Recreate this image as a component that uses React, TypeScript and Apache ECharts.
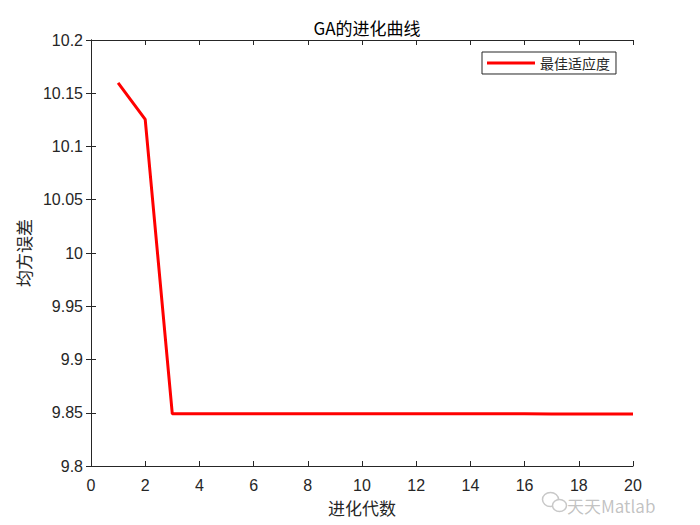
import React, { useEffect, useRef } from "react";
import * as echarts from "echarts";

const generations = [1, 2, 3, 4, 5, 6, 7, 8, 9, 10, 11, 12, 13, 14, 15, 16, 17, 18, 19, 20];
const bestFitness = [10.1598, 10.1255, 9.849, 9.849, 9.849, 9.849, 9.849, 9.849, 9.849, 9.849, 9.849, 9.849, 9.849, 9.849, 9.849, 9.849, 9.8489, 9.8489, 9.8489, 9.8489];
const seriesName = "最佳适应度";
const titleText = "GA的进化曲线";
const xName = "进化代数";
const yName = "均方误差";

export default function App() {
  const ref = useRef<HTMLDivElement>(null);
  useEffect(() => {
    if (!ref.current) return;
    const chart = echarts.init(ref.current, undefined, { renderer: "svg" });
    const axisColor = "#262626";
    const font = "Arial, 'Liberation Sans', Helvetica, sans-serif";
    const cjk = "'Noto Sans CJK SC', sans-serif";
    const data = generations.map((g, i) => [g, bestFitness[i]]);
    chart.setOption({
      animation: false,
      backgroundColor: "#fff",
      title: {
        text: titleText,
        left: 362,
        textAlign: "center",
        top: 14,
        textStyle: { fontSize: 17, fontWeight: "normal", color: "#000", fontFamily: cjk },
      },
      legend: {
        data: [{ name: seriesName, icon: "rect" }],
        left: 482,
        top: 52,
        padding: [4, 6, 4, 5],
        itemWidth: 48,
        itemHeight: 3,
        itemGap: 4,
        borderColor: "#262626",
        borderWidth: 1,
        backgroundColor: "#fff",
        textStyle: { fontSize: 14, color: "#262626", fontFamily: cjk },
      },
      grid: { left: 91, right: 67, top: 40, bottom: 59, containLabel: false, outerBoundsMode: "none" },
      xAxis: [
        {
          type: "value",
          min: 0,
          max: 20,
          interval: 2,
          name: xName,
          nameLocation: "middle",
          nameGap: 33,
          nameTextStyle: { fontSize: 17, color: "#262626", fontFamily: cjk },
          axisLine: { show: true, lineStyle: { color: axisColor, width: 1 } },
          axisTick: { show: true, inside: true, length: 5, lineStyle: { color: axisColor } },
          axisLabel: { fontSize: 16, color: axisColor, fontFamily: font, margin: 11 },
          splitLine: { show: false },
        },
        {
          type: "value",
          position: "top",
          min: 0,
          max: 20,
          interval: 2,
          axisLine: { show: true, lineStyle: { color: axisColor, width: 1 } },
          axisTick: { show: true, inside: true, length: 5, lineStyle: { color: axisColor } },
          axisLabel: { show: false },
          splitLine: { show: false },
        },
      ],
      yAxis: [
        {
          type: "value",
          min: 9.8,
          max: 10.2,
          interval: 0.05,
          name: yName,
          nameLocation: "middle",
          nameGap: 58,
          nameRotate: 90,
          nameTextStyle: { fontSize: 17, color: "#262626", fontFamily: cjk },
          axisLine: { show: true, lineStyle: { color: axisColor, width: 1 } },
          axisTick: { show: true, inside: true, length: 5, lineStyle: { color: axisColor } },
          axisLabel: {
            fontSize: 16,
            color: axisColor,
            fontFamily: font,
            margin: 8,
            formatter: (v: number) => String(parseFloat(v.toFixed(2))),
          },
          splitLine: { show: false },
        },
        {
          type: "value",
          position: "right",
          min: 9.8,
          max: 10.2,
          interval: 0.05,
          axisLine: { show: true, lineStyle: { color: axisColor, width: 1 } },
          axisTick: { show: true, inside: true, length: 5, lineStyle: { color: axisColor } },
          axisLabel: { show: false },
          splitLine: { show: false },
        },
      ],
      series: [
        {
          name: seriesName,
          type: "line",
          data,
          symbol: "none",
          showSymbol: false,
          xAxisIndex: 0,
          yAxisIndex: 0,
          lineStyle: { color: "#ff0000", width: 3 },
          itemStyle: { color: "#ff0000" },
        },
      ],
      graphic: [
        {
          type: "group",
          left: 540,
          top: 490,
          children: [
            { type: "ellipse", shape: { cx: 10, cy: 9, rx: 8, ry: 7 }, style: { fill: "none", stroke: "#c8c8c8", lineWidth: 1.5 } },
            { type: "ellipse", shape: { cx: 19, cy: 15, rx: 7, ry: 6 }, style: { fill: "#fff", stroke: "#c8c8c8", lineWidth: 1.5 } },
          ],
        },
        {
          type: "text",
          left: 567,
          top: 497,
          style: {
            text: "天天Matlab",
            fontSize: 17,
            fill: "rgba(120,120,120,0.45)",
            fontFamily: "'Noto Sans CJK SC', Arial, sans-serif",
          },
        },
      ],
    });
    return () => chart.dispose();
  }, []);
  return (
    <div
      ref={ref}
      style={{ position: "fixed", left: 0, top: 0, width: 700, height: 525, background: "#fff" }}
    />
  );
}
